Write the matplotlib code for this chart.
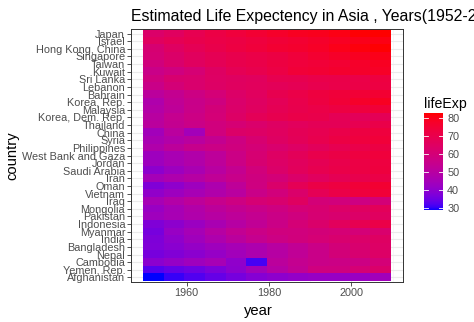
import numpy as np
import matplotlib
matplotlib.use('Agg')
import matplotlib.pyplot as plt
from matplotlib.colors import ListedColormap

plt.rcParams['font.family'] = ['Liberation Sans', 'DejaVu Sans']

years = [1952, 1957, 1962, 1967, 1972, 1977, 1982, 1987, 1992, 1997, 2002, 2007]

# bottom row first
countries = ['Afghanistan', 'Yemen, Rep.', 'Cambodia', 'Nepal', 'Bangladesh', 'India',
             'Myanmar', 'Indonesia', 'Pakistan', 'Mongolia', 'Iraq', 'Vietnam', 'Oman',
             'Iran', 'Saudi Arabia', 'Jordan', 'West Bank and Gaza', 'Philippines', 'Syria',
             'China', 'Thailand', 'Korea, Dem. Rep.', 'Malaysia', 'Korea, Rep.', 'Bahrain',
             'Lebanon', 'Sri Lanka', 'Kuwait', 'Taiwan', 'Singapore', 'Hong Kong, China',
             'Israel', 'Japan']

life_exp = [
    [28.8, 30.3, 32.0, 34.0, 36.1, 38.4, 39.9, 40.8, 41.7, 41.8, 42.1, 43.8],
    [32.5, 34.0, 35.2, 37.0, 39.8, 44.2, 49.1, 52.9, 57.9, 58.0, 60.3, 62.7],
    [39.4, 41.4, 43.4, 45.4, 40.3, 31.2, 51.0, 53.9, 55.8, 56.5, 56.8, 59.7],
    [36.2, 37.7, 39.4, 41.5, 44.0, 46.7, 49.6, 52.5, 55.7, 59.4, 61.3, 63.8],
    [37.5, 39.3, 41.2, 43.5, 45.3, 46.9, 50.0, 52.8, 56.0, 59.4, 62.0, 64.1],
    [37.4, 40.2, 43.6, 47.2, 50.7, 54.2, 56.6, 58.6, 60.2, 61.8, 62.9, 64.7],
    [36.3, 41.9, 45.1, 49.4, 53.1, 56.1, 58.1, 58.3, 59.3, 60.3, 59.9, 62.1],
    [37.5, 39.9, 42.5, 46.0, 49.2, 52.7, 56.2, 60.1, 62.7, 66.0, 68.6, 70.7],
    [43.4, 45.6, 47.7, 49.8, 51.9, 54.0, 56.2, 58.2, 60.8, 61.8, 63.6, 65.5],
    [42.2, 45.2, 48.3, 51.3, 53.8, 55.5, 57.5, 60.2, 61.3, 63.6, 65.0, 66.8],
    [45.3, 48.4, 51.5, 54.5, 57.0, 60.4, 62.0, 65.0, 59.5, 58.8, 57.0, 59.5],
    [40.4, 42.9, 45.4, 47.8, 50.3, 55.8, 58.8, 62.8, 67.7, 70.7, 73.0, 74.2],
    [37.6, 40.1, 43.2, 47.0, 52.1, 57.4, 62.7, 67.7, 71.2, 72.5, 74.2, 75.6],
    [44.9, 47.2, 49.3, 52.5, 55.2, 57.7, 59.6, 63.0, 65.7, 68.0, 69.5, 71.0],
    [39.9, 42.9, 45.9, 49.9, 53.9, 58.7, 63.0, 66.3, 68.8, 70.5, 71.6, 72.8],
    [43.2, 45.7, 48.1, 51.6, 56.5, 61.1, 63.7, 65.9, 68.0, 69.8, 71.3, 72.5],
    [43.2, 45.7, 48.1, 51.6, 56.5, 60.8, 64.4, 67.0, 69.7, 71.1, 72.4, 73.4],
    [47.8, 51.3, 54.8, 56.4, 58.1, 60.1, 62.1, 64.2, 66.5, 68.6, 70.3, 71.7],
    [45.9, 48.3, 50.3, 53.7, 57.3, 61.2, 64.6, 67.0, 69.2, 71.5, 73.1, 74.1],
    [44.0, 50.5, 44.5, 58.4, 63.1, 64.0, 65.5, 67.3, 68.7, 70.4, 72.0, 73.0],
    [50.8, 53.6, 56.1, 58.3, 60.4, 62.5, 64.6, 66.1, 67.3, 67.5, 68.6, 70.6],
    [50.1, 54.1, 56.7, 59.9, 64.0, 67.2, 69.1, 70.6, 70.0, 67.7, 66.7, 67.3],
    [48.5, 52.1, 55.7, 59.4, 63.0, 65.3, 68.0, 69.5, 70.7, 71.9, 73.0, 74.2],
    [47.5, 52.7, 55.3, 57.7, 62.6, 64.8, 67.1, 69.8, 72.2, 74.6, 77.0, 78.6],
    [50.9, 53.8, 56.9, 59.9, 63.3, 65.6, 69.1, 70.8, 72.6, 73.9, 74.8, 75.6],
    [55.9, 59.5, 62.1, 63.9, 65.4, 66.1, 67.0, 67.9, 69.3, 70.3, 71.0, 72.0],
    [57.6, 61.5, 62.2, 64.3, 65.0, 65.9, 68.8, 69.0, 70.4, 70.5, 70.8, 72.4],
    [55.6, 58.0, 60.5, 64.6, 67.7, 69.3, 71.3, 74.2, 75.2, 76.2, 76.9, 77.6],
    [58.5, 62.4, 65.2, 67.5, 69.4, 70.6, 72.2, 73.4, 74.3, 75.3, 77.0, 78.4],
    [60.4, 63.2, 65.8, 67.9, 69.5, 70.8, 71.8, 73.6, 75.8, 77.2, 78.8, 80.0],
    [61.0, 64.8, 67.7, 70.0, 72.0, 73.6, 75.5, 76.2, 77.6, 80.0, 81.5, 82.2],
    [65.4, 67.8, 69.4, 70.8, 71.6, 73.1, 74.5, 75.6, 76.9, 78.3, 79.7, 80.7],
    [63.0, 65.5, 68.7, 71.4, 73.4, 75.4, 77.1, 78.7, 79.4, 80.7, 82.0, 82.6],
]


def srgb_to_lab(rgb):
    c = np.asarray(rgb, dtype=float)
    lin = np.where(c <= 0.04045, c / 12.92, ((c + 0.055) / 1.055) ** 2.4)
    m = np.array([[0.4124, 0.3576, 0.1805],
                  [0.2126, 0.7152, 0.0722],
                  [0.0193, 0.1192, 0.9505]])
    xyz = m @ lin / np.array([0.95047, 1.0, 1.08883])
    f = np.where(xyz > 0.008856, np.cbrt(xyz), 7.787 * xyz + 16 / 116)
    return np.array([116 * f[1] - 16, 500 * (f[0] - f[1]), 200 * (f[1] - f[2])])


def lab_to_srgb(lab):
    L, a, b = lab
    fy = (L + 16) / 116
    fx = fy + a / 500
    fz = fy - b / 200
    f = np.array([fx, fy, fz])
    xyz = np.where(f ** 3 > 0.008856, f ** 3, (f - 16 / 116) / 7.787)
    xyz = xyz * np.array([0.95047, 1.0, 1.08883])
    m = np.array([[3.2406, -1.5372, -0.4986],
                  [-0.9689, 1.8758, 0.0415],
                  [0.0557, -0.2040, 1.0570]])
    lin = np.clip(m @ xyz, 0, 1)
    c = np.where(lin <= 0.0031308, 12.92 * lin, 1.055 * lin ** (1 / 2.4) - 0.055)
    return np.clip(c, 0, 1)


# blue -> red gradient interpolated in Lab space
lab_lo = srgb_to_lab([0, 0, 1])
lab_hi = srgb_to_lab([1, 0, 0])
cmap = ListedColormap([lab_to_srgb(lab_lo + t * (lab_hi - lab_lo)) for t in np.linspace(0, 1, 256)])

W, H = 474, 322
fig = plt.figure(figsize=(W / 100, H / 100), dpi=100)


def px_axes(x0, y0, x1, y1):
    return fig.add_axes([x0 / W, 1 - y1 / H, (x1 - x0) / W, (y1 - y0) / H])


ax = px_axes(131, 29, 403, 282)
z = np.array(life_exp)
vmin, vmax = z.min(), z.max()
half = 2.5
tiles = ax.imshow(z, cmap=cmap, vmin=vmin, vmax=vmax, origin='lower', aspect='auto',
                  interpolation='nearest',
                  extent=[years[0] - half, years[-1] + half, 0.5, len(countries) + 0.5],
                  zorder=2)

ax.set_xlim(1946.5, 2012.5)
ax.set_ylim(0.4, len(countries) + 0.6)
ax.set_xticks([1960, 1980, 2000])
ax.set_xticks([1950, 1970, 1990, 2010], minor=True)
ax.set_yticks(np.arange(1, len(countries) + 1))
ax.set_yticklabels(countries)
ax.set_axisbelow(True)
ax.grid(True, which='major', color='#EBEBEB', lw=0.8)
ax.grid(True, which='minor', axis='x', color='#F5F5F5', lw=0.5)
ax.tick_params(axis='both', which='major', labelsize=7.8, labelcolor='#4D4D4D',
               color='#333333', length=2.7, width=0.6, pad=1.5)
ax.tick_params(axis='x', which='minor', length=0)
for s in ax.spines.values():
    s.set_color('#333333')
    s.set_linewidth(0.7)
ax.set_xlabel('year', fontsize=10.6)
ax.set_ylabel('country', fontsize=10.6)
ax.xaxis.set_label_coords(0.47, -0.085)
ax.yaxis.set_label_coords(-0.412, 0.5)
fig.text(131 / W, 1 - 21 / H, 'Estimated Life Expectency in Asia , Years(1952-2007)',
         fontsize=11.4, ha='left', va='baseline')

# colour bar legend
cax = px_axes(424, 113, 443, 210)
cb = fig.colorbar(tiles, cax=cax, ticks=[30, 40, 50, 60, 70, 80])
cb.outline.set_visible(False)
cax.tick_params(labelsize=7.8, labelcolor='#4D4D4D', length=0, pad=3)
for v in [30, 40, 50, 60, 70, 80]:
    cax.plot([0, 0.2], [v, v], color='white', lw=0.6, transform=cax.get_yaxis_transform())
    cax.plot([0.8, 1], [v, v], color='white', lw=0.6, transform=cax.get_yaxis_transform())
fig.text(424 / W, 1 - 108 / H, 'lifeExp', fontsize=10.2, ha='left', va='baseline')

fig.savefig('out.png', dpi=100)
